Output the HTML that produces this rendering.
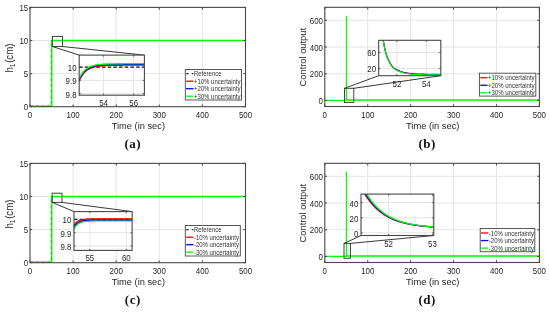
<!DOCTYPE html>
<html><head><meta charset="utf-8"><title>Figure</title>
<style>
html,body{margin:0;padding:0;background:#fff;}
body{width:550px;height:312px;overflow:hidden;}
svg{display:block;}
svg{font-family:'Liberation Sans', Arial, Helvetica, sans-serif;}

.sf{font-family:'Liberation Serif', 'Times New Roman', serif;font-weight:bold;}
</style></head>
<body>
<svg width="550" height="312" viewBox="0 0 550 312">
<rect x="0" y="0" width="550" height="312" fill="#fff"/>
<line x1="73.1" y1="7.4" x2="73.1" y2="106.7" stroke="#e4e4e4" stroke-width="1" />
<line x1="116.2" y1="7.4" x2="116.2" y2="106.7" stroke="#e4e4e4" stroke-width="1" />
<line x1="159.3" y1="7.4" x2="159.3" y2="106.7" stroke="#e4e4e4" stroke-width="1" />
<line x1="202.4" y1="7.4" x2="202.4" y2="106.7" stroke="#e4e4e4" stroke-width="1" />
<line x1="30" y1="73.6" x2="245.5" y2="73.6" stroke="#e4e4e4" stroke-width="1" />
<line x1="30" y1="40.5" x2="245.5" y2="40.5" stroke="#e4e4e4" stroke-width="1" />
<polyline points="30,106.3 51.4,106.3 51.4,40.5 245.5,40.5" fill="none" stroke="#000" stroke-width="1.2" stroke-linejoin="round" stroke-dasharray="3.2,2.6"/>
<polyline points="30,106.3 51.75,106.3 51.75,40.5" fill="none" stroke="#00ff00" stroke-width="1.5" stroke-linejoin="round" opacity="0.92"/>
<polyline points="51.3,40.5 245.5,40.5" fill="none" stroke="#00ff00" stroke-width="1.6" stroke-linejoin="round" />
<rect x="30" y="7.4" width="215.5" height="99.3" fill="none" stroke="#474747" stroke-width="1.1"/>
<line x1="30" y1="106.7" x2="30" y2="104.5" stroke="#474747" stroke-width="1" />
<line x1="30" y1="7.4" x2="30" y2="9.6" stroke="#474747" stroke-width="1" />
<line x1="73.1" y1="106.7" x2="73.1" y2="104.5" stroke="#474747" stroke-width="1" />
<line x1="73.1" y1="7.4" x2="73.1" y2="9.6" stroke="#474747" stroke-width="1" />
<line x1="116.2" y1="106.7" x2="116.2" y2="104.5" stroke="#474747" stroke-width="1" />
<line x1="116.2" y1="7.4" x2="116.2" y2="9.6" stroke="#474747" stroke-width="1" />
<line x1="159.3" y1="106.7" x2="159.3" y2="104.5" stroke="#474747" stroke-width="1" />
<line x1="159.3" y1="7.4" x2="159.3" y2="9.6" stroke="#474747" stroke-width="1" />
<line x1="202.4" y1="106.7" x2="202.4" y2="104.5" stroke="#474747" stroke-width="1" />
<line x1="202.4" y1="7.4" x2="202.4" y2="9.6" stroke="#474747" stroke-width="1" />
<line x1="245.5" y1="106.7" x2="245.5" y2="104.5" stroke="#474747" stroke-width="1" />
<line x1="245.5" y1="7.4" x2="245.5" y2="9.6" stroke="#474747" stroke-width="1" />
<line x1="30" y1="106.7" x2="32.2" y2="106.7" stroke="#474747" stroke-width="1" />
<line x1="245.5" y1="106.7" x2="243.3" y2="106.7" stroke="#474747" stroke-width="1" />
<line x1="30" y1="73.6" x2="32.2" y2="73.6" stroke="#474747" stroke-width="1" />
<line x1="245.5" y1="73.6" x2="243.3" y2="73.6" stroke="#474747" stroke-width="1" />
<line x1="30" y1="40.5" x2="32.2" y2="40.5" stroke="#474747" stroke-width="1" />
<line x1="245.5" y1="40.5" x2="243.3" y2="40.5" stroke="#474747" stroke-width="1" />
<line x1="30" y1="7.4" x2="32.2" y2="7.4" stroke="#474747" stroke-width="1" />
<line x1="245.5" y1="7.4" x2="243.3" y2="7.4" stroke="#474747" stroke-width="1" />
<text transform="translate(30,118) scale(0.85,1)" font-size="9.3" text-anchor="middle" fill="#262626" >0</text>
<text transform="translate(73.1,118) scale(0.85,1)" font-size="9.3" text-anchor="middle" fill="#262626" >100</text>
<text transform="translate(116.2,118) scale(0.85,1)" font-size="9.3" text-anchor="middle" fill="#262626" >200</text>
<text transform="translate(159.3,118) scale(0.85,1)" font-size="9.3" text-anchor="middle" fill="#262626" >300</text>
<text transform="translate(202.4,118) scale(0.85,1)" font-size="9.3" text-anchor="middle" fill="#262626" >400</text>
<text transform="translate(245.5,118) scale(0.85,1)" font-size="9.3" text-anchor="middle" fill="#262626" >500</text>
<text transform="translate(28.2,110.2) scale(0.85,1)" font-size="9.3" text-anchor="end" fill="#262626" >0</text>
<text transform="translate(28.2,77.1) scale(0.85,1)" font-size="9.3" text-anchor="end" fill="#262626" >5</text>
<text transform="translate(28.2,44) scale(0.85,1)" font-size="9.3" text-anchor="end" fill="#262626" >10</text>
<text transform="translate(28.2,10.9) scale(0.85,1)" font-size="9.3" text-anchor="end" fill="#262626" >15</text>
<rect x="52.4" y="36.4" width="10.1" height="10.1" fill="none" stroke="#3a3a3a" stroke-width="0.95"/>
<line x1="52.4" y1="46.5" x2="79.2" y2="55.1" stroke="#222" stroke-width="0.9" />
<line x1="62.5" y1="46.5" x2="144.4" y2="55.1" stroke="#222" stroke-width="0.9" />
<rect x="79.2" y="55.1" width="65.2" height="40.1" fill="#ffffff" stroke="none" stroke-width="0"/>
<line x1="103.6" y1="55.1" x2="103.6" y2="95.2" stroke="#e4e4e4" stroke-width="1" />
<line x1="133.7" y1="55.1" x2="133.7" y2="95.2" stroke="#e4e4e4" stroke-width="1" />
<line x1="79.2" y1="67.1" x2="144.4" y2="67.1" stroke="#e4e4e4" stroke-width="1" />
<line x1="79.2" y1="80.4" x2="144.4" y2="80.4" stroke="#e4e4e4" stroke-width="1" />
<line x1="79.2" y1="93.6" x2="144.4" y2="93.6" stroke="#e4e4e4" stroke-width="1" />
<line x1="79.2" y1="67.2" x2="144.4" y2="67.2" stroke="#111" stroke-width="1.2" stroke-dasharray="3.4,2.3"/>
<polyline points="79.2,81 80.03,79.22 80.85,77.64 81.68,76.24 82.5,74.99 83.33,73.89 84.15,72.91 84.98,72.04 85.8,71.27 86.63,70.58 87.45,69.98 88.28,69.44 89.1,68.96 89.93,68.54 90.75,68.16 91.58,67.83 92.41,67.53 93.23,67.27 94.06,67.03 94.88,66.83 95.71,66.64 96.53,66.48 97.36,66.34 98.18,66.21 99.01,66.1 99.83,65.99 100.66,65.9 101.48,65.83 102.31,65.75 103.13,65.69 103.96,65.64 104.78,65.59 105.61,65.54 106.44,65.51 107.26,65.47 108.09,65.44 108.91,65.41 109.74,65.39 110.56,65.37 111.39,65.35 112.21,65.33 113.04,65.32 113.86,65.3 114.69,65.29 115.51,65.28 116.34,65.27 117.16,65.26 117.99,65.26 118.82,65.25 119.64,65.25 120.47,65.24 121.29,65.24 122.12,65.23 122.94,65.23 123.77,65.22 124.59,65.22 125.42,65.22 126.24,65.22 127.07,65.22 127.89,65.21 128.72,65.21 129.54,65.21 130.37,65.21 131.19,65.21 132.02,65.21 132.85,65.21 133.67,65.21 134.5,65.21 135.32,65.2 136.15,65.2 136.97,65.2 137.8,65.2 138.62,65.2 139.45,65.2 140.27,65.2 141.1,65.2 141.92,65.2 142.75,65.2 143.57,65.2 144.4,65.2" fill="none" stroke="#ff0000" stroke-width="1.3" stroke-linejoin="round" />
<polyline points="79.2,79.7 80.03,77.98 80.85,76.46 81.68,75.1 82.5,73.9 83.33,72.84 84.15,71.89 84.98,71.05 85.8,70.31 86.63,69.65 87.45,69.06 88.28,68.54 89.1,68.08 89.93,67.67 90.75,67.31 91.58,66.99 92.41,66.7 93.23,66.45 94.06,66.22 94.88,66.02 95.71,65.84 96.53,65.69 97.36,65.55 98.18,65.42 99.01,65.31 99.83,65.22 100.66,65.13 101.48,65.05 102.31,64.99 103.13,64.93 103.96,64.87 104.78,64.82 105.61,64.78 106.44,64.74 107.26,64.71 108.09,64.68 108.91,64.66 109.74,64.63 110.56,64.61 111.39,64.59 112.21,64.58 113.04,64.56 113.86,64.55 114.69,64.54 115.51,64.53 116.34,64.52 117.16,64.51 117.99,64.51 118.82,64.5 119.64,64.49 120.47,64.49 121.29,64.48 122.12,64.48 122.94,64.48 123.77,64.47 124.59,64.47 125.42,64.47 126.24,64.47 127.07,64.46 127.89,64.46 128.72,64.46 129.54,64.46 130.37,64.46 131.19,64.46 132.02,64.46 132.85,64.46 133.67,64.46 134.5,64.46 135.32,64.45 136.15,64.45 136.97,64.45 137.8,64.45 138.62,64.45 139.45,64.45 140.27,64.45 141.1,64.45 141.92,64.45 142.75,64.45 143.57,64.45 144.4,64.45" fill="none" stroke="#0000ff" stroke-width="1.3" stroke-linejoin="round" />
<polyline points="79.2,78.4 80.03,76.74 80.85,75.27 81.68,73.97 82.5,72.81 83.33,71.78 84.15,70.87 84.98,70.06 85.8,69.35 86.63,68.71 87.45,68.14 88.28,67.64 89.1,67.2 89.93,66.8 90.75,66.45 91.58,66.14 92.41,65.87 93.23,65.62 94.06,65.41 94.88,65.21 95.71,65.04 96.53,64.89 97.36,64.76 98.18,64.64 99.01,64.53 99.83,64.44 100.66,64.36 101.48,64.28 102.31,64.22 103.13,64.16 103.96,64.11 104.78,64.06 105.61,64.02 106.44,63.98 107.26,63.95 108.09,63.92 108.91,63.9 109.74,63.88 110.56,63.86 111.39,63.84 112.21,63.82 113.04,63.81 113.86,63.8 114.69,63.79 115.51,63.78 116.34,63.77 117.16,63.76 117.99,63.75 118.82,63.75 119.64,63.74 120.47,63.74 121.29,63.73 122.12,63.73 122.94,63.73 123.77,63.72 124.59,63.72 125.42,63.72 126.24,63.72 127.07,63.71 127.89,63.71 128.72,63.71 129.54,63.71 130.37,63.71 131.19,63.71 132.02,63.71 132.85,63.71 133.67,63.71 134.5,63.7 135.32,63.7 136.15,63.7 136.97,63.7 137.8,63.7 138.62,63.7 139.45,63.7 140.27,63.7 141.1,63.7 141.92,63.7 142.75,63.7 143.57,63.7 144.4,63.7" fill="none" stroke="#00ff00" stroke-width="1.3" stroke-linejoin="round" />
<rect x="79.2" y="55.1" width="65.2" height="40.1" fill="none" stroke="#474747" stroke-width="1.1"/>
<line x1="103.6" y1="95.2" x2="103.6" y2="93.6" stroke="#474747" stroke-width="0.9" />
<line x1="103.6" y1="55.1" x2="103.6" y2="56.7" stroke="#474747" stroke-width="0.9" />
<text transform="translate(103.6,106.2) scale(0.85,1)" font-size="9.3" text-anchor="middle" fill="#262626" >54</text>
<line x1="133.7" y1="95.2" x2="133.7" y2="93.6" stroke="#474747" stroke-width="0.9" />
<line x1="133.7" y1="55.1" x2="133.7" y2="56.7" stroke="#474747" stroke-width="0.9" />
<text transform="translate(133.7,106.2) scale(0.85,1)" font-size="9.3" text-anchor="middle" fill="#262626" >56</text>
<line x1="79.2" y1="67.1" x2="80.8" y2="67.1" stroke="#474747" stroke-width="0.9" />
<line x1="144.4" y1="67.1" x2="142.8" y2="67.1" stroke="#474747" stroke-width="0.9" />
<text transform="translate(76.6,71) scale(0.85,1)" font-size="9.3" text-anchor="end" fill="#262626" >10</text>
<line x1="79.2" y1="80.4" x2="80.8" y2="80.4" stroke="#474747" stroke-width="0.9" />
<line x1="144.4" y1="80.4" x2="142.8" y2="80.4" stroke="#474747" stroke-width="0.9" />
<text transform="translate(76.6,84.3) scale(0.85,1)" font-size="9.3" text-anchor="end" fill="#262626" >9.9</text>
<line x1="79.2" y1="93.6" x2="80.8" y2="93.6" stroke="#474747" stroke-width="0.9" />
<line x1="144.4" y1="93.6" x2="142.8" y2="93.6" stroke="#474747" stroke-width="0.9" />
<text transform="translate(76.6,97.5) scale(0.85,1)" font-size="9.3" text-anchor="end" fill="#262626" >9.8</text>
<rect x="185.3" y="69.5" width="56.2" height="30.5" fill="#ffffff" stroke="#474747" stroke-width="0.9"/>
<line x1="186.1" y1="73.7" x2="193.5" y2="73.7" stroke="#000" stroke-width="1.1" stroke-dasharray="2.6,3.0"/>
<text transform="translate(193.9,76.2) scale(0.86,1)" font-size="7.0" text-anchor="start" fill="#333" >Reference</text>
<line x1="186.1" y1="81.2" x2="193.5" y2="81.2" stroke="#ff0000" stroke-width="1.3" />
<text transform="translate(193.9,83.7) scale(0.86,1)" font-size="7.0" text-anchor="start" fill="#333" >+10% uncertainty</text>
<line x1="186.1" y1="88.7" x2="193.5" y2="88.7" stroke="#0000ff" stroke-width="1.3" />
<text transform="translate(193.9,91.2) scale(0.86,1)" font-size="7.0" text-anchor="start" fill="#333" >+20% uncertainty</text>
<line x1="186.1" y1="96.2" x2="193.5" y2="96.2" stroke="#00ff00" stroke-width="1.3" />
<text transform="translate(193.9,98.7) scale(0.86,1)" font-size="7.0" text-anchor="start" fill="#333" >+30% uncertainty</text>
<text transform="translate(138.35,128.9) scale(0.94,1)" font-size="9.9" text-anchor="middle" fill="#262626" >Time (in sec)</text>
<text transform="translate(12.5,58) rotate(-90) scale(0.94,1)" font-size="10.3" text-anchor="middle" fill="#262626">h<tspan font-size="6.4" dy="2.0">1</tspan><tspan dy="-2.0" dx="0.9">(cm)</tspan></text>
<text x="132.8" y="148.2" class="sf" font-size="13" letter-spacing="0.5" text-anchor="middle" fill="#111">(a)</text>
<line x1="367.72" y1="7.3" x2="367.72" y2="106.5" stroke="#e4e4e4" stroke-width="1" />
<line x1="410.64" y1="7.3" x2="410.64" y2="106.5" stroke="#e4e4e4" stroke-width="1" />
<line x1="453.56" y1="7.3" x2="453.56" y2="106.5" stroke="#e4e4e4" stroke-width="1" />
<line x1="496.48" y1="7.3" x2="496.48" y2="106.5" stroke="#e4e4e4" stroke-width="1" />
<line x1="324.8" y1="100.48" x2="539.4" y2="100.48" stroke="#e4e4e4" stroke-width="1" />
<line x1="324.8" y1="73.75" x2="539.4" y2="73.75" stroke="#e4e4e4" stroke-width="1" />
<line x1="324.8" y1="47.01" x2="539.4" y2="47.01" stroke="#e4e4e4" stroke-width="1" />
<line x1="324.8" y1="20.27" x2="539.4" y2="20.27" stroke="#e4e4e4" stroke-width="1" />
<polyline points="324.8,100.38 346.4,100.38" fill="none" stroke="#00ff00" stroke-width="1.3" stroke-linejoin="round" />
<line x1="346.4" y1="100.48" x2="346.4" y2="15.86" stroke="#00ff00" stroke-width="1.2" />
<path d="M346.4,97.98 Q346.4,99.98 348.2,99.98 H539.4" fill="none" stroke="#00ff00" stroke-width="1.3"/>
<rect x="324.8" y="7.3" width="214.6" height="99.2" fill="none" stroke="#474747" stroke-width="1.1"/>
<line x1="324.8" y1="106.5" x2="324.8" y2="104.3" stroke="#474747" stroke-width="1" />
<line x1="324.8" y1="7.3" x2="324.8" y2="9.5" stroke="#474747" stroke-width="1" />
<line x1="367.72" y1="106.5" x2="367.72" y2="104.3" stroke="#474747" stroke-width="1" />
<line x1="367.72" y1="7.3" x2="367.72" y2="9.5" stroke="#474747" stroke-width="1" />
<line x1="410.64" y1="106.5" x2="410.64" y2="104.3" stroke="#474747" stroke-width="1" />
<line x1="410.64" y1="7.3" x2="410.64" y2="9.5" stroke="#474747" stroke-width="1" />
<line x1="453.56" y1="106.5" x2="453.56" y2="104.3" stroke="#474747" stroke-width="1" />
<line x1="453.56" y1="7.3" x2="453.56" y2="9.5" stroke="#474747" stroke-width="1" />
<line x1="496.48" y1="106.5" x2="496.48" y2="104.3" stroke="#474747" stroke-width="1" />
<line x1="496.48" y1="7.3" x2="496.48" y2="9.5" stroke="#474747" stroke-width="1" />
<line x1="539.4" y1="106.5" x2="539.4" y2="104.3" stroke="#474747" stroke-width="1" />
<line x1="539.4" y1="7.3" x2="539.4" y2="9.5" stroke="#474747" stroke-width="1" />
<line x1="324.8" y1="100.48" x2="327" y2="100.48" stroke="#474747" stroke-width="1" />
<line x1="539.4" y1="100.48" x2="537.2" y2="100.48" stroke="#474747" stroke-width="1" />
<line x1="324.8" y1="73.75" x2="327" y2="73.75" stroke="#474747" stroke-width="1" />
<line x1="539.4" y1="73.75" x2="537.2" y2="73.75" stroke="#474747" stroke-width="1" />
<line x1="324.8" y1="47.01" x2="327" y2="47.01" stroke="#474747" stroke-width="1" />
<line x1="539.4" y1="47.01" x2="537.2" y2="47.01" stroke="#474747" stroke-width="1" />
<line x1="324.8" y1="20.27" x2="327" y2="20.27" stroke="#474747" stroke-width="1" />
<line x1="539.4" y1="20.27" x2="537.2" y2="20.27" stroke="#474747" stroke-width="1" />
<text transform="translate(324.8,117.8) scale(0.85,1)" font-size="9.3" text-anchor="middle" fill="#262626" >0</text>
<text transform="translate(367.72,117.8) scale(0.85,1)" font-size="9.3" text-anchor="middle" fill="#262626" >100</text>
<text transform="translate(410.64,117.8) scale(0.85,1)" font-size="9.3" text-anchor="middle" fill="#262626" >200</text>
<text transform="translate(453.56,117.8) scale(0.85,1)" font-size="9.3" text-anchor="middle" fill="#262626" >300</text>
<text transform="translate(496.48,117.8) scale(0.85,1)" font-size="9.3" text-anchor="middle" fill="#262626" >400</text>
<text transform="translate(539.4,117.8) scale(0.85,1)" font-size="9.3" text-anchor="middle" fill="#262626" >500</text>
<text transform="translate(323,103.98) scale(0.85,1)" font-size="9.3" text-anchor="end" fill="#262626" >0</text>
<text transform="translate(323,77.25) scale(0.85,1)" font-size="9.3" text-anchor="end" fill="#262626" >200</text>
<text transform="translate(323,50.51) scale(0.85,1)" font-size="9.3" text-anchor="end" fill="#262626" >400</text>
<text transform="translate(323,23.77) scale(0.85,1)" font-size="9.3" text-anchor="end" fill="#262626" >600</text>
<rect x="344.5" y="88.3" width="9.3" height="14.1" fill="none" stroke="#3a3a3a" stroke-width="0.95"/>
<line x1="344.5" y1="88.3" x2="378.7" y2="75.7" stroke="#222" stroke-width="0.9" />
<line x1="353.8" y1="88.3" x2="440.8" y2="75.7" stroke="#222" stroke-width="0.9" />
<rect x="378.7" y="40.3" width="62.1" height="35.4" fill="#ffffff" stroke="none" stroke-width="0"/>
<line x1="396.9" y1="40.3" x2="396.9" y2="75.7" stroke="#e4e4e4" stroke-width="1" />
<line x1="426.3" y1="40.3" x2="426.3" y2="75.7" stroke="#e4e4e4" stroke-width="1" />
<line x1="378.7" y1="52.5" x2="440.8" y2="52.5" stroke="#e4e4e4" stroke-width="1" />
<line x1="378.7" y1="68.5" x2="440.8" y2="68.5" stroke="#e4e4e4" stroke-width="1" />
<clipPath id="clip1"><rect x="378.7" y="40.3" width="62.1" height="35.4"/></clipPath>
<g clip-path="url(#clip1)">
<polyline points="379.7,21.94 380.21,24.71 380.73,27.45 381.24,30.17 381.75,32.85 382.27,35.49 382.78,38.1 383.29,40.68 383.81,43.37 384.32,46.06 384.83,48.6 385.35,50.85 385.86,52.7 386.37,54.38 386.89,55.92 387.4,57.32 387.92,58.6 388.43,59.75 388.94,60.77 389.46,61.75 389.97,62.69 390.48,63.59 391,64.44 391.51,65.23 392.02,65.96 392.54,66.61 393.05,67.18 393.56,67.67 394.08,68.05 394.59,68.39 395.1,68.71 395.62,69.03 396.13,69.32 396.64,69.61 397.16,69.88 397.67,70.14 398.18,70.38 398.7,70.62 399.21,70.84 399.72,71.05 400.24,71.25 400.75,71.44 401.26,71.62 401.78,71.79 402.29,71.94 402.81,72.09 403.32,72.23 403.83,72.36 404.35,72.48 404.86,72.59 405.37,72.69 405.89,72.78 406.4,72.87 406.91,72.95 407.43,73.03 407.94,73.12 408.45,73.19 408.97,73.27 409.48,73.34 409.99,73.41 410.51,73.48 411.02,73.54 411.53,73.6 412.05,73.66 412.56,73.71 413.07,73.76 413.59,73.81 414.1,73.85 414.61,73.89 415.13,73.92 415.64,73.95 416.15,73.97 416.67,73.99 417.18,74 417.69,74.02 418.21,74.03 418.72,74.04 419.24,74.05 419.75,74.06 420.26,74.08 420.78,74.09 421.29,74.1 421.8,74.11 422.32,74.12 422.83,74.13 423.34,74.14 423.86,74.15 424.37,74.16 424.88,74.16 425.4,74.17 425.91,74.18 426.42,74.19 426.94,74.2 427.45,74.2 427.96,74.21 428.48,74.22 428.99,74.22 429.5,74.23 430.02,74.24 430.53,74.24 431.04,74.25 431.56,74.25 432.07,74.26 432.58,74.26 433.1,74.27 433.61,74.27 434.13,74.28 434.64,74.28 435.15,74.28 435.67,74.29 436.18,74.29 436.69,74.29 437.21,74.29 437.72,74.29 438.23,74.3 438.75,74.3 439.26,74.3 439.77,74.3 440.29,74.3 440.8,74.3" fill="none" stroke="#ff0000" stroke-width="1.15" stroke-linejoin="round" />
<polyline points="379.7,22.24 380.21,25.01 380.73,27.75 381.24,30.47 381.75,33.15 382.27,35.79 382.78,38.4 383.29,40.98 383.81,43.67 384.32,46.36 384.83,48.9 385.35,51.15 385.86,53 386.37,54.68 386.89,56.22 387.4,57.62 387.92,58.9 388.43,60.05 388.94,61.07 389.46,62.05 389.97,62.99 390.48,63.89 391,64.74 391.51,65.53 392.02,66.26 392.54,66.91 393.05,67.48 393.56,67.97 394.08,68.35 394.59,68.69 395.1,69.01 395.62,69.33 396.13,69.62 396.64,69.91 397.16,70.18 397.67,70.44 398.18,70.68 398.7,70.92 399.21,71.14 399.72,71.35 400.24,71.55 400.75,71.74 401.26,71.92 401.78,72.09 402.29,72.24 402.81,72.39 403.32,72.53 403.83,72.66 404.35,72.78 404.86,72.89 405.37,72.99 405.89,73.08 406.4,73.17 406.91,73.25 407.43,73.33 407.94,73.42 408.45,73.49 408.97,73.57 409.48,73.64 409.99,73.71 410.51,73.78 411.02,73.84 411.53,73.9 412.05,73.96 412.56,74.01 413.07,74.06 413.59,74.11 414.1,74.15 414.61,74.19 415.13,74.22 415.64,74.25 416.15,74.27 416.67,74.29 417.18,74.3 417.69,74.32 418.21,74.33 418.72,74.34 419.24,74.35 419.75,74.36 420.26,74.38 420.78,74.39 421.29,74.4 421.8,74.41 422.32,74.42 422.83,74.43 423.34,74.44 423.86,74.45 424.37,74.46 424.88,74.46 425.4,74.47 425.91,74.48 426.42,74.49 426.94,74.5 427.45,74.5 427.96,74.51 428.48,74.52 428.99,74.52 429.5,74.53 430.02,74.54 430.53,74.54 431.04,74.55 431.56,74.55 432.07,74.56 432.58,74.56 433.1,74.57 433.61,74.57 434.13,74.58 434.64,74.58 435.15,74.58 435.67,74.59 436.18,74.59 436.69,74.59 437.21,74.59 437.72,74.59 438.23,74.6 438.75,74.6 439.26,74.6 439.77,74.6 440.29,74.6 440.8,74.6" fill="none" stroke="#0000ff" stroke-width="1.15" stroke-linejoin="round" />
<polyline points="379.7,22.54 380.21,25.31 380.73,28.05 381.24,30.77 381.75,33.45 382.27,36.09 382.78,38.7 383.29,41.28 383.81,43.97 384.32,46.66 384.83,49.2 385.35,51.45 385.86,53.3 386.37,54.98 386.89,56.52 387.4,57.92 387.92,59.2 388.43,60.35 388.94,61.37 389.46,62.35 389.97,63.29 390.48,64.19 391,65.04 391.51,65.83 392.02,66.56 392.54,67.21 393.05,67.78 393.56,68.27 394.08,68.65 394.59,68.99 395.1,69.31 395.62,69.63 396.13,69.92 396.64,70.21 397.16,70.48 397.67,70.74 398.18,70.98 398.7,71.22 399.21,71.44 399.72,71.65 400.24,71.85 400.75,72.04 401.26,72.22 401.78,72.39 402.29,72.54 402.81,72.69 403.32,72.83 403.83,72.96 404.35,73.08 404.86,73.19 405.37,73.29 405.89,73.38 406.4,73.47 406.91,73.55 407.43,73.63 407.94,73.72 408.45,73.79 408.97,73.87 409.48,73.94 409.99,74.01 410.51,74.08 411.02,74.14 411.53,74.2 412.05,74.26 412.56,74.31 413.07,74.36 413.59,74.41 414.1,74.45 414.61,74.49 415.13,74.52 415.64,74.55 416.15,74.57 416.67,74.59 417.18,74.6 417.69,74.62 418.21,74.63 418.72,74.64 419.24,74.65 419.75,74.66 420.26,74.68 420.78,74.69 421.29,74.7 421.8,74.71 422.32,74.72 422.83,74.73 423.34,74.74 423.86,74.75 424.37,74.76 424.88,74.76 425.4,74.77 425.91,74.78 426.42,74.79 426.94,74.8 427.45,74.8 427.96,74.81 428.48,74.82 428.99,74.82 429.5,74.83 430.02,74.84 430.53,74.84 431.04,74.85 431.56,74.85 432.07,74.86 432.58,74.86 433.1,74.87 433.61,74.87 434.13,74.88 434.64,74.88 435.15,74.88 435.67,74.89 436.18,74.89 436.69,74.89 437.21,74.89 437.72,74.89 438.23,74.9 438.75,74.9 439.26,74.9 439.77,74.9 440.29,74.9 440.8,74.9" fill="none" stroke="#00ff00" stroke-width="1.15" stroke-linejoin="round" />
</g>
<rect x="378.7" y="40.3" width="62.1" height="35.4" fill="none" stroke="#474747" stroke-width="1.1"/>
<line x1="396.9" y1="75.7" x2="396.9" y2="74.1" stroke="#474747" stroke-width="0.9" />
<line x1="396.9" y1="40.3" x2="396.9" y2="41.9" stroke="#474747" stroke-width="0.9" />
<text transform="translate(396.9,86.7) scale(0.85,1)" font-size="9.3" text-anchor="middle" fill="#262626" >52</text>
<line x1="426.3" y1="75.7" x2="426.3" y2="74.1" stroke="#474747" stroke-width="0.9" />
<line x1="426.3" y1="40.3" x2="426.3" y2="41.9" stroke="#474747" stroke-width="0.9" />
<text transform="translate(426.3,86.7) scale(0.85,1)" font-size="9.3" text-anchor="middle" fill="#262626" >54</text>
<line x1="378.7" y1="52.5" x2="380.3" y2="52.5" stroke="#474747" stroke-width="0.9" />
<line x1="440.8" y1="52.5" x2="439.2" y2="52.5" stroke="#474747" stroke-width="0.9" />
<text transform="translate(376.1,56.4) scale(0.85,1)" font-size="9.3" text-anchor="end" fill="#262626" >60</text>
<line x1="378.7" y1="68.5" x2="380.3" y2="68.5" stroke="#474747" stroke-width="0.9" />
<line x1="440.8" y1="68.5" x2="439.2" y2="68.5" stroke="#474747" stroke-width="0.9" />
<text transform="translate(376.1,72.4) scale(0.85,1)" font-size="9.3" text-anchor="end" fill="#262626" >20</text>
<rect x="479.4" y="73.2" width="56.4" height="22.9" fill="#ffffff" stroke="#474747" stroke-width="0.9"/>
<line x1="480.2" y1="77.7" x2="487.6" y2="77.7" stroke="#ff0000" stroke-width="1.3" />
<text transform="translate(488,80.2) scale(0.86,1)" font-size="7.0" text-anchor="start" fill="#333" >+10% uncertainty</text>
<line x1="480.2" y1="85.25" x2="487.6" y2="85.25" stroke="#0000ff" stroke-width="1.3" />
<text transform="translate(488,87.75) scale(0.86,1)" font-size="7.0" text-anchor="start" fill="#333" >+20% uncertainty</text>
<line x1="480.2" y1="92.8" x2="487.6" y2="92.8" stroke="#00ff00" stroke-width="1.3" />
<text transform="translate(488,95.3) scale(0.86,1)" font-size="7.0" text-anchor="start" fill="#333" >+30% uncertainty</text>
<text transform="translate(432.7,128.9) scale(0.94,1)" font-size="9.9" text-anchor="middle" fill="#262626" >Time (in sec)</text>
<text transform="translate(305.6,57.2) rotate(-90) scale(0.94,1)" font-size="9.9" text-anchor="middle" fill="#262626">Control output</text>
<text x="427.2" y="148.2" class="sf" font-size="13" letter-spacing="0.5" text-anchor="middle" fill="#111">(b)</text>
<line x1="73.1" y1="163.4" x2="73.1" y2="262.7" stroke="#e4e4e4" stroke-width="1" />
<line x1="116.2" y1="163.4" x2="116.2" y2="262.7" stroke="#e4e4e4" stroke-width="1" />
<line x1="159.3" y1="163.4" x2="159.3" y2="262.7" stroke="#e4e4e4" stroke-width="1" />
<line x1="202.4" y1="163.4" x2="202.4" y2="262.7" stroke="#e4e4e4" stroke-width="1" />
<line x1="30" y1="229.6" x2="245.5" y2="229.6" stroke="#e4e4e4" stroke-width="1" />
<line x1="30" y1="196.5" x2="245.5" y2="196.5" stroke="#e4e4e4" stroke-width="1" />
<polyline points="30,262.3 51.4,262.3 51.4,196.5 245.5,196.5" fill="none" stroke="#000" stroke-width="1.2" stroke-linejoin="round" stroke-dasharray="3.2,2.6"/>
<polyline points="30,262.3 51.75,262.3 51.75,196.5" fill="none" stroke="#00ff00" stroke-width="1.5" stroke-linejoin="round" opacity="0.92"/>
<polyline points="51.3,196.5 245.5,196.5" fill="none" stroke="#00ff00" stroke-width="1.6" stroke-linejoin="round" />
<rect x="30" y="163.4" width="215.5" height="99.3" fill="none" stroke="#474747" stroke-width="1.1"/>
<line x1="30" y1="262.7" x2="30" y2="260.5" stroke="#474747" stroke-width="1" />
<line x1="30" y1="163.4" x2="30" y2="165.6" stroke="#474747" stroke-width="1" />
<line x1="73.1" y1="262.7" x2="73.1" y2="260.5" stroke="#474747" stroke-width="1" />
<line x1="73.1" y1="163.4" x2="73.1" y2="165.6" stroke="#474747" stroke-width="1" />
<line x1="116.2" y1="262.7" x2="116.2" y2="260.5" stroke="#474747" stroke-width="1" />
<line x1="116.2" y1="163.4" x2="116.2" y2="165.6" stroke="#474747" stroke-width="1" />
<line x1="159.3" y1="262.7" x2="159.3" y2="260.5" stroke="#474747" stroke-width="1" />
<line x1="159.3" y1="163.4" x2="159.3" y2="165.6" stroke="#474747" stroke-width="1" />
<line x1="202.4" y1="262.7" x2="202.4" y2="260.5" stroke="#474747" stroke-width="1" />
<line x1="202.4" y1="163.4" x2="202.4" y2="165.6" stroke="#474747" stroke-width="1" />
<line x1="245.5" y1="262.7" x2="245.5" y2="260.5" stroke="#474747" stroke-width="1" />
<line x1="245.5" y1="163.4" x2="245.5" y2="165.6" stroke="#474747" stroke-width="1" />
<line x1="30" y1="262.7" x2="32.2" y2="262.7" stroke="#474747" stroke-width="1" />
<line x1="245.5" y1="262.7" x2="243.3" y2="262.7" stroke="#474747" stroke-width="1" />
<line x1="30" y1="229.6" x2="32.2" y2="229.6" stroke="#474747" stroke-width="1" />
<line x1="245.5" y1="229.6" x2="243.3" y2="229.6" stroke="#474747" stroke-width="1" />
<line x1="30" y1="196.5" x2="32.2" y2="196.5" stroke="#474747" stroke-width="1" />
<line x1="245.5" y1="196.5" x2="243.3" y2="196.5" stroke="#474747" stroke-width="1" />
<line x1="30" y1="163.4" x2="32.2" y2="163.4" stroke="#474747" stroke-width="1" />
<line x1="245.5" y1="163.4" x2="243.3" y2="163.4" stroke="#474747" stroke-width="1" />
<text transform="translate(30,274) scale(0.85,1)" font-size="9.3" text-anchor="middle" fill="#262626" >0</text>
<text transform="translate(73.1,274) scale(0.85,1)" font-size="9.3" text-anchor="middle" fill="#262626" >100</text>
<text transform="translate(116.2,274) scale(0.85,1)" font-size="9.3" text-anchor="middle" fill="#262626" >200</text>
<text transform="translate(159.3,274) scale(0.85,1)" font-size="9.3" text-anchor="middle" fill="#262626" >300</text>
<text transform="translate(202.4,274) scale(0.85,1)" font-size="9.3" text-anchor="middle" fill="#262626" >400</text>
<text transform="translate(245.5,274) scale(0.85,1)" font-size="9.3" text-anchor="middle" fill="#262626" >500</text>
<text transform="translate(28.2,266.2) scale(0.85,1)" font-size="9.3" text-anchor="end" fill="#262626" >0</text>
<text transform="translate(28.2,233.1) scale(0.85,1)" font-size="9.3" text-anchor="end" fill="#262626" >5</text>
<text transform="translate(28.2,200) scale(0.85,1)" font-size="9.3" text-anchor="end" fill="#262626" >10</text>
<text transform="translate(28.2,166.9) scale(0.85,1)" font-size="9.3" text-anchor="end" fill="#262626" >15</text>
<rect x="52.2" y="193.2" width="9.8" height="9.2" fill="none" stroke="#3a3a3a" stroke-width="0.95"/>
<line x1="52.2" y1="202.4" x2="74" y2="211.6" stroke="#222" stroke-width="0.9" />
<line x1="62" y1="202.4" x2="132.1" y2="211.6" stroke="#222" stroke-width="0.9" />
<rect x="74" y="211.6" width="58.1" height="38.8" fill="#ffffff" stroke="none" stroke-width="0"/>
<line x1="89.8" y1="211.6" x2="89.8" y2="250.4" stroke="#e4e4e4" stroke-width="1" />
<line x1="126.3" y1="211.6" x2="126.3" y2="250.4" stroke="#e4e4e4" stroke-width="1" />
<line x1="74" y1="219.4" x2="132.1" y2="219.4" stroke="#e4e4e4" stroke-width="1" />
<line x1="74" y1="232.7" x2="132.1" y2="232.7" stroke="#e4e4e4" stroke-width="1" />
<line x1="74" y1="246" x2="132.1" y2="246" stroke="#e4e4e4" stroke-width="1" />
<line x1="74" y1="219.4" x2="132.1" y2="219.4" stroke="#111" stroke-width="1.2" stroke-dasharray="3.4,2.3"/>
<polyline points="74,228.8 74.74,227.58 75.47,226.56 76.21,225.68 76.94,224.95 77.68,224.33 78.41,223.8 79.15,223.35 79.88,222.97 80.62,222.66 81.35,222.38 82.09,222.16 82.83,221.96 83.56,221.8 84.3,221.66 85.03,221.54 85.77,221.44 86.5,221.36 87.24,221.29 87.97,221.23 88.71,221.18 89.44,221.14 90.18,221.1 90.92,221.07 91.65,221.04 92.39,221.02 93.12,221 93.86,220.99 94.59,220.97 95.33,220.96 96.06,220.95 96.8,220.94 97.53,220.94 98.27,220.93 99.01,220.93 99.74,220.92 100.48,220.92 101.21,220.92 101.95,220.91 102.68,220.91 103.42,220.91 104.15,220.91 104.89,220.91 105.62,220.91 106.36,220.91 107.09,220.9 107.83,220.9 108.57,220.9 109.3,220.9 110.04,220.9 110.77,220.9 111.51,220.9 112.24,220.9 112.98,220.9 113.71,220.9 114.45,220.9 115.18,220.9 115.92,220.9 116.66,220.9 117.39,220.9 118.13,220.9 118.86,220.9 119.6,220.9 120.33,220.9 121.07,220.9 121.8,220.9 122.54,220.9 123.27,220.9 124.01,220.9 124.75,220.9 125.48,220.9 126.22,220.9 126.95,220.9 127.69,220.9 128.42,220.9 129.16,220.9 129.89,220.9 130.63,220.9 131.36,220.9 132.1,220.9" fill="none" stroke="#00ff00" stroke-width="1.3" stroke-linejoin="round" />
<polyline points="74,226.6 74.74,225.55 75.47,224.67 76.21,223.92 76.94,223.28 77.68,222.75 78.41,222.29 79.15,221.91 79.88,221.59 80.62,221.31 81.35,221.08 82.09,220.88 82.83,220.72 83.56,220.57 84.3,220.45 85.03,220.35 85.77,220.27 86.5,220.2 87.24,220.14 87.97,220.08 88.71,220.04 89.44,220 90.18,219.97 90.92,219.95 91.65,219.92 92.39,219.9 93.12,219.89 93.86,219.87 94.59,219.86 95.33,219.85 96.06,219.85 96.8,219.84 97.53,219.83 98.27,219.83 99.01,219.82 99.74,219.82 100.48,219.82 101.21,219.81 101.95,219.81 102.68,219.81 103.42,219.81 104.15,219.81 104.89,219.81 105.62,219.81 106.36,219.8 107.09,219.8 107.83,219.8 108.57,219.8 109.3,219.8 110.04,219.8 110.77,219.8 111.51,219.8 112.24,219.8 112.98,219.8 113.71,219.8 114.45,219.8 115.18,219.8 115.92,219.8 116.66,219.8 117.39,219.8 118.13,219.8 118.86,219.8 119.6,219.8 120.33,219.8 121.07,219.8 121.8,219.8 122.54,219.8 123.27,219.8 124.01,219.8 124.75,219.8 125.48,219.8 126.22,219.8 126.95,219.8 127.69,219.8 128.42,219.8 129.16,219.8 129.89,219.8 130.63,219.8 131.36,219.8 132.1,219.8" fill="none" stroke="#0000ff" stroke-width="1.3" stroke-linejoin="round" />
<polyline points="74,224.8 74.74,223.88 75.47,223.1 76.21,222.43 76.94,221.87 77.68,221.4 78.41,221 79.15,220.66 79.88,220.38 80.62,220.13 81.35,219.93 82.09,219.75 82.83,219.61 83.56,219.48 84.3,219.38 85.03,219.29 85.77,219.21 86.5,219.15 87.24,219.1 87.97,219.05 88.71,219.01 89.44,218.98 90.18,218.95 90.92,218.93 91.65,218.91 92.39,218.89 93.12,218.88 93.86,218.87 94.59,218.86 95.33,218.85 96.06,218.84 96.8,218.83 97.53,218.83 98.27,218.82 99.01,218.82 99.74,218.82 100.48,218.81 101.21,218.81 101.95,218.81 102.68,218.81 103.42,218.81 104.15,218.81 104.89,218.81 105.62,218.8 106.36,218.8 107.09,218.8 107.83,218.8 108.57,218.8 109.3,218.8 110.04,218.8 110.77,218.8 111.51,218.8 112.24,218.8 112.98,218.8 113.71,218.8 114.45,218.8 115.18,218.8 115.92,218.8 116.66,218.8 117.39,218.8 118.13,218.8 118.86,218.8 119.6,218.8 120.33,218.8 121.07,218.8 121.8,218.8 122.54,218.8 123.27,218.8 124.01,218.8 124.75,218.8 125.48,218.8 126.22,218.8 126.95,218.8 127.69,218.8 128.42,218.8 129.16,218.8 129.89,218.8 130.63,218.8 131.36,218.8 132.1,218.8" fill="none" stroke="#ff0000" stroke-width="1.3" stroke-linejoin="round" />
<rect x="74" y="211.6" width="58.1" height="38.8" fill="none" stroke="#474747" stroke-width="1.1"/>
<line x1="89.8" y1="250.4" x2="89.8" y2="248.8" stroke="#474747" stroke-width="0.9" />
<line x1="89.8" y1="211.6" x2="89.8" y2="213.2" stroke="#474747" stroke-width="0.9" />
<text transform="translate(89.8,261.4) scale(0.85,1)" font-size="9.3" text-anchor="middle" fill="#262626" >55</text>
<line x1="126.3" y1="250.4" x2="126.3" y2="248.8" stroke="#474747" stroke-width="0.9" />
<line x1="126.3" y1="211.6" x2="126.3" y2="213.2" stroke="#474747" stroke-width="0.9" />
<text transform="translate(126.3,261.4) scale(0.85,1)" font-size="9.3" text-anchor="middle" fill="#262626" >60</text>
<line x1="74" y1="219.4" x2="75.6" y2="219.4" stroke="#474747" stroke-width="0.9" />
<line x1="132.1" y1="219.4" x2="130.5" y2="219.4" stroke="#474747" stroke-width="0.9" />
<text transform="translate(71.4,223.3) scale(0.85,1)" font-size="9.3" text-anchor="end" fill="#262626" >10</text>
<line x1="74" y1="232.7" x2="75.6" y2="232.7" stroke="#474747" stroke-width="0.9" />
<line x1="132.1" y1="232.7" x2="130.5" y2="232.7" stroke="#474747" stroke-width="0.9" />
<text transform="translate(71.4,236.6) scale(0.85,1)" font-size="9.3" text-anchor="end" fill="#262626" >9.9</text>
<line x1="74" y1="246" x2="75.6" y2="246" stroke="#474747" stroke-width="0.9" />
<line x1="132.1" y1="246" x2="130.5" y2="246" stroke="#474747" stroke-width="0.9" />
<text transform="translate(71.4,249.9) scale(0.85,1)" font-size="9.3" text-anchor="end" fill="#262626" >9.8</text>
<rect x="185.3" y="225.5" width="55" height="30.5" fill="#ffffff" stroke="#474747" stroke-width="0.9"/>
<line x1="186.1" y1="229.7" x2="193.5" y2="229.7" stroke="#000" stroke-width="1.1" stroke-dasharray="2.6,3.0"/>
<text transform="translate(193.9,232.2) scale(0.86,1)" font-size="7.0" text-anchor="start" fill="#333" >Reference</text>
<line x1="186.1" y1="237.2" x2="193.5" y2="237.2" stroke="#ff0000" stroke-width="1.3" />
<text transform="translate(193.9,239.7) scale(0.86,1)" font-size="7.0" text-anchor="start" fill="#333" >-10% uncertainty</text>
<line x1="186.1" y1="244.7" x2="193.5" y2="244.7" stroke="#0000ff" stroke-width="1.3" />
<text transform="translate(193.9,247.2) scale(0.86,1)" font-size="7.0" text-anchor="start" fill="#333" >-20% uncertainty</text>
<line x1="186.1" y1="252.2" x2="193.5" y2="252.2" stroke="#00ff00" stroke-width="1.3" />
<text transform="translate(193.9,254.7) scale(0.86,1)" font-size="7.0" text-anchor="start" fill="#333" >-30% uncertainty</text>
<text transform="translate(138.35,284.9) scale(0.94,1)" font-size="9.9" text-anchor="middle" fill="#262626" >Time (in sec)</text>
<text transform="translate(12.5,214) rotate(-90) scale(0.94,1)" font-size="10.3" text-anchor="middle" fill="#262626">h<tspan font-size="6.4" dy="2.0">1</tspan><tspan dy="-2.0" dx="0.9">(cm)</tspan></text>
<text x="132.8" y="304.2" class="sf" font-size="13" letter-spacing="0.5" text-anchor="middle" fill="#111">(c)</text>
<line x1="367.72" y1="163.3" x2="367.72" y2="262.5" stroke="#e4e4e4" stroke-width="1" />
<line x1="410.64" y1="163.3" x2="410.64" y2="262.5" stroke="#e4e4e4" stroke-width="1" />
<line x1="453.56" y1="163.3" x2="453.56" y2="262.5" stroke="#e4e4e4" stroke-width="1" />
<line x1="496.48" y1="163.3" x2="496.48" y2="262.5" stroke="#e4e4e4" stroke-width="1" />
<line x1="324.8" y1="256.48" x2="539.4" y2="256.48" stroke="#e4e4e4" stroke-width="1" />
<line x1="324.8" y1="229.75" x2="539.4" y2="229.75" stroke="#e4e4e4" stroke-width="1" />
<line x1="324.8" y1="203.01" x2="539.4" y2="203.01" stroke="#e4e4e4" stroke-width="1" />
<line x1="324.8" y1="176.27" x2="539.4" y2="176.27" stroke="#e4e4e4" stroke-width="1" />
<polyline points="324.8,256.38 346.4,256.38" fill="none" stroke="#00ff00" stroke-width="1.3" stroke-linejoin="round" />
<line x1="346.4" y1="256.48" x2="346.4" y2="171.86" stroke="#00ff00" stroke-width="1.2" />
<path d="M346.4,253.98 Q346.4,255.98 348.2,255.98 H539.4" fill="none" stroke="#00ff00" stroke-width="1.3"/>
<rect x="324.8" y="163.3" width="214.6" height="99.2" fill="none" stroke="#474747" stroke-width="1.1"/>
<line x1="324.8" y1="262.5" x2="324.8" y2="260.3" stroke="#474747" stroke-width="1" />
<line x1="324.8" y1="163.3" x2="324.8" y2="165.5" stroke="#474747" stroke-width="1" />
<line x1="367.72" y1="262.5" x2="367.72" y2="260.3" stroke="#474747" stroke-width="1" />
<line x1="367.72" y1="163.3" x2="367.72" y2="165.5" stroke="#474747" stroke-width="1" />
<line x1="410.64" y1="262.5" x2="410.64" y2="260.3" stroke="#474747" stroke-width="1" />
<line x1="410.64" y1="163.3" x2="410.64" y2="165.5" stroke="#474747" stroke-width="1" />
<line x1="453.56" y1="262.5" x2="453.56" y2="260.3" stroke="#474747" stroke-width="1" />
<line x1="453.56" y1="163.3" x2="453.56" y2="165.5" stroke="#474747" stroke-width="1" />
<line x1="496.48" y1="262.5" x2="496.48" y2="260.3" stroke="#474747" stroke-width="1" />
<line x1="496.48" y1="163.3" x2="496.48" y2="165.5" stroke="#474747" stroke-width="1" />
<line x1="539.4" y1="262.5" x2="539.4" y2="260.3" stroke="#474747" stroke-width="1" />
<line x1="539.4" y1="163.3" x2="539.4" y2="165.5" stroke="#474747" stroke-width="1" />
<line x1="324.8" y1="256.48" x2="327" y2="256.48" stroke="#474747" stroke-width="1" />
<line x1="539.4" y1="256.48" x2="537.2" y2="256.48" stroke="#474747" stroke-width="1" />
<line x1="324.8" y1="229.75" x2="327" y2="229.75" stroke="#474747" stroke-width="1" />
<line x1="539.4" y1="229.75" x2="537.2" y2="229.75" stroke="#474747" stroke-width="1" />
<line x1="324.8" y1="203.01" x2="327" y2="203.01" stroke="#474747" stroke-width="1" />
<line x1="539.4" y1="203.01" x2="537.2" y2="203.01" stroke="#474747" stroke-width="1" />
<line x1="324.8" y1="176.27" x2="327" y2="176.27" stroke="#474747" stroke-width="1" />
<line x1="539.4" y1="176.27" x2="537.2" y2="176.27" stroke="#474747" stroke-width="1" />
<text transform="translate(324.8,273.8) scale(0.85,1)" font-size="9.3" text-anchor="middle" fill="#262626" >0</text>
<text transform="translate(367.72,273.8) scale(0.85,1)" font-size="9.3" text-anchor="middle" fill="#262626" >100</text>
<text transform="translate(410.64,273.8) scale(0.85,1)" font-size="9.3" text-anchor="middle" fill="#262626" >200</text>
<text transform="translate(453.56,273.8) scale(0.85,1)" font-size="9.3" text-anchor="middle" fill="#262626" >300</text>
<text transform="translate(496.48,273.8) scale(0.85,1)" font-size="9.3" text-anchor="middle" fill="#262626" >400</text>
<text transform="translate(539.4,273.8) scale(0.85,1)" font-size="9.3" text-anchor="middle" fill="#262626" >500</text>
<text transform="translate(323,259.98) scale(0.85,1)" font-size="9.3" text-anchor="end" fill="#262626" >0</text>
<text transform="translate(323,233.25) scale(0.85,1)" font-size="9.3" text-anchor="end" fill="#262626" >200</text>
<text transform="translate(323,206.51) scale(0.85,1)" font-size="9.3" text-anchor="end" fill="#262626" >400</text>
<text transform="translate(323,179.77) scale(0.85,1)" font-size="9.3" text-anchor="end" fill="#262626" >600</text>
<rect x="344" y="243.4" width="6.4" height="14.8" fill="none" stroke="#3a3a3a" stroke-width="0.95"/>
<line x1="344" y1="243.4" x2="361" y2="235.5" stroke="#222" stroke-width="0.9" />
<line x1="350.4" y1="243.4" x2="433.8" y2="235.5" stroke="#222" stroke-width="0.9" />
<rect x="361" y="194.1" width="72.8" height="41.4" fill="#ffffff" stroke="none" stroke-width="0"/>
<line x1="388.6" y1="194.1" x2="388.6" y2="235.5" stroke="#e4e4e4" stroke-width="1" />
<line x1="432.4" y1="194.1" x2="432.4" y2="235.5" stroke="#e4e4e4" stroke-width="1" />
<line x1="361" y1="202.6" x2="433.8" y2="202.6" stroke="#e4e4e4" stroke-width="1" />
<line x1="361" y1="217.8" x2="433.8" y2="217.8" stroke="#e4e4e4" stroke-width="1" />
<line x1="361" y1="232.8" x2="433.8" y2="232.8" stroke="#e4e4e4" stroke-width="1" />
<clipPath id="clip-1"><rect x="361" y="194.1" width="72.8" height="41.4"/></clipPath>
<g clip-path="url(#clip-1)">
<polyline points="361,187.35 361.61,188.52 362.22,189.67 362.84,190.78 363.45,191.85 364.06,192.9 364.67,193.92 365.28,194.9 365.89,195.86 366.51,196.79 367.12,197.7 367.73,198.58 368.34,199.43 368.95,200.26 369.56,201.06 370.18,201.85 370.79,202.61 371.4,203.34 372.01,204.06 372.62,204.76 373.24,205.43 373.85,206.09 374.46,206.73 375.07,207.35 375.68,207.95 376.29,208.53 376.91,209.1 377.52,209.65 378.13,210.19 378.74,210.71 379.35,211.21 379.96,211.7 380.58,212.18 381.19,212.64 381.8,213.09 382.41,213.53 383.02,213.95 383.64,214.36 384.25,214.76 384.86,215.15 385.47,215.53 386.08,215.9 386.69,216.25 387.31,216.6 387.92,216.93 388.53,217.26 389.14,217.58 389.75,217.89 390.36,218.18 390.98,218.47 391.59,218.76 392.2,219.03 392.81,219.3 393.42,219.56 394.04,219.81 394.65,220.05 395.26,220.29 395.87,220.52 396.48,220.74 397.09,220.96 397.71,221.17 398.32,221.37 398.93,221.57 399.54,221.77 400.15,221.95 400.76,222.14 401.38,222.31 401.99,222.48 402.6,222.65 403.21,222.81 403.82,222.97 404.44,223.12 405.05,223.27 405.66,223.42 406.27,223.56 406.88,223.69 407.49,223.83 408.11,223.95 408.72,224.08 409.33,224.2 409.94,224.32 410.55,224.43 411.16,224.54 411.78,224.65 412.39,224.76 413,224.86 413.61,224.96 414.22,225.05 414.84,225.15 415.45,225.24 416.06,225.32 416.67,225.41 417.28,225.49 417.89,225.57 418.51,225.65 419.12,225.73 419.73,225.8 420.34,225.87 420.95,225.94 421.56,226.01 422.18,226.08 422.79,226.14 423.4,226.2 424.01,226.26 424.62,226.32 425.24,226.38 425.85,226.43 426.46,226.49 427.07,226.54 427.68,226.59 428.29,226.64 428.91,226.69 429.52,226.73 430.13,226.78 430.74,226.82 431.35,226.86 431.96,226.9 432.58,226.94 433.19,226.98 433.8,227.02" fill="none" stroke="#ff0000" stroke-width="1.3" stroke-linejoin="round" />
<polyline points="361,185.35 361.61,186.58 362.22,187.78 362.84,188.95 363.45,190.08 364.06,191.17 364.67,192.24 365.28,193.27 365.89,194.28 366.51,195.26 367.12,196.21 367.73,197.13 368.34,198.02 368.95,198.89 369.56,199.74 370.18,200.56 370.79,201.35 371.4,202.13 372.01,202.88 372.62,203.61 373.24,204.32 373.85,205 374.46,205.67 375.07,206.32 375.68,206.95 376.29,207.57 376.91,208.16 377.52,208.74 378.13,209.3 378.74,209.85 379.35,210.38 379.96,210.89 380.58,211.39 381.19,211.88 381.8,212.35 382.41,212.81 383.02,213.25 383.64,213.68 384.25,214.1 384.86,214.51 385.47,214.91 386.08,215.29 386.69,215.66 387.31,216.03 387.92,216.38 388.53,216.72 389.14,217.05 389.75,217.38 390.36,217.69 390.98,218 391.59,218.29 392.2,218.58 392.81,218.86 393.42,219.13 394.04,219.39 394.65,219.65 395.26,219.9 395.87,220.14 396.48,220.37 397.09,220.6 397.71,220.82 398.32,221.04 398.93,221.24 399.54,221.45 400.15,221.64 400.76,221.83 401.38,222.02 401.99,222.2 402.6,222.38 403.21,222.55 403.82,222.71 404.44,222.87 405.05,223.03 405.66,223.18 406.27,223.33 406.88,223.47 407.49,223.61 408.11,223.74 408.72,223.87 409.33,224 409.94,224.12 410.55,224.24 411.16,224.36 411.78,224.47 412.39,224.58 413,224.69 413.61,224.79 414.22,224.89 414.84,224.99 415.45,225.09 416.06,225.18 416.67,225.27 417.28,225.36 417.89,225.44 418.51,225.52 419.12,225.6 419.73,225.68 420.34,225.75 420.95,225.83 421.56,225.9 422.18,225.97 422.79,226.03 423.4,226.1 424.01,226.16 424.62,226.22 425.24,226.28 425.85,226.34 426.46,226.4 427.07,226.45 427.68,226.51 428.29,226.56 428.91,226.61 429.52,226.66 430.13,226.7 430.74,226.75 431.35,226.79 431.96,226.84 432.58,226.88 433.19,226.92 433.8,226.96" fill="none" stroke="#0000ff" stroke-width="1.3" stroke-linejoin="round" />
<polyline points="361,183.26 361.61,184.55 362.22,185.81 362.84,187.03 363.45,188.21 364.06,189.36 364.67,190.48 365.28,191.57 365.89,192.62 366.51,193.65 367.12,194.64 367.73,195.61 368.34,196.55 368.95,197.46 369.56,198.34 370.18,199.2 370.79,200.04 371.4,200.85 372.01,201.64 372.62,202.4 373.24,203.15 373.85,203.87 374.46,204.57 375.07,205.25 375.68,205.91 376.29,206.56 376.91,207.18 377.52,207.79 378.13,208.38 378.74,208.95 379.35,209.5 379.96,210.04 380.58,210.57 381.19,211.08 381.8,211.57 382.41,212.05 383.02,212.52 383.64,212.97 384.25,213.41 384.86,213.84 385.47,214.25 386.08,214.66 386.69,215.05 387.31,215.43 387.92,215.8 388.53,216.16 389.14,216.51 389.75,216.84 390.36,217.17 390.98,217.49 391.59,217.8 392.2,218.1 392.81,218.4 393.42,218.68 394.04,218.96 394.65,219.23 395.26,219.49 395.87,219.74 396.48,219.99 397.09,220.22 397.71,220.46 398.32,220.68 398.93,220.9 399.54,221.11 400.15,221.32 400.76,221.52 401.38,221.71 401.99,221.9 402.6,222.09 403.21,222.27 403.82,222.44 404.44,222.61 405.05,222.77 405.66,222.93 406.27,223.08 406.88,223.23 407.49,223.38 408.11,223.52 408.72,223.66 409.33,223.79 409.94,223.92 410.55,224.05 411.16,224.17 411.78,224.29 412.39,224.4 413,224.51 413.61,224.62 414.22,224.73 414.84,224.83 415.45,224.93 416.06,225.03 416.67,225.12 417.28,225.21 417.89,225.3 418.51,225.39 419.12,225.47 419.73,225.55 420.34,225.63 420.95,225.71 421.56,225.78 422.18,225.85 422.79,225.92 423.4,225.99 424.01,226.06 424.62,226.12 425.24,226.19 425.85,226.25 426.46,226.31 427.07,226.36 427.68,226.42 428.29,226.47 428.91,226.52 429.52,226.58 430.13,226.63 430.74,226.67 431.35,226.72 431.96,226.77 432.58,226.81 433.19,226.85 433.8,226.89" fill="none" stroke="#00ff00" stroke-width="1.3" stroke-linejoin="round" />
</g>
<rect x="361" y="194.1" width="72.8" height="41.4" fill="none" stroke="#474747" stroke-width="1.1"/>
<line x1="388.6" y1="235.5" x2="388.6" y2="233.9" stroke="#474747" stroke-width="0.9" />
<line x1="388.6" y1="194.1" x2="388.6" y2="195.7" stroke="#474747" stroke-width="0.9" />
<text transform="translate(388.6,246.5) scale(0.85,1)" font-size="9.3" text-anchor="middle" fill="#262626" >52</text>
<line x1="432.4" y1="235.5" x2="432.4" y2="233.9" stroke="#474747" stroke-width="0.9" />
<line x1="432.4" y1="194.1" x2="432.4" y2="195.7" stroke="#474747" stroke-width="0.9" />
<text transform="translate(432.4,246.5) scale(0.85,1)" font-size="9.3" text-anchor="middle" fill="#262626" >53</text>
<line x1="361" y1="202.6" x2="362.6" y2="202.6" stroke="#474747" stroke-width="0.9" />
<line x1="433.8" y1="202.6" x2="432.2" y2="202.6" stroke="#474747" stroke-width="0.9" />
<text transform="translate(358.4,206.5) scale(0.85,1)" font-size="9.3" text-anchor="end" fill="#262626" >40</text>
<line x1="361" y1="217.8" x2="362.6" y2="217.8" stroke="#474747" stroke-width="0.9" />
<line x1="433.8" y1="217.8" x2="432.2" y2="217.8" stroke="#474747" stroke-width="0.9" />
<text transform="translate(358.4,221.7) scale(0.85,1)" font-size="9.3" text-anchor="end" fill="#262626" >20</text>
<line x1="361" y1="232.8" x2="362.6" y2="232.8" stroke="#474747" stroke-width="0.9" />
<line x1="433.8" y1="232.8" x2="432.2" y2="232.8" stroke="#474747" stroke-width="0.9" />
<text transform="translate(358.4,236.7) scale(0.85,1)" font-size="9.3" text-anchor="end" fill="#262626" >0</text>
<rect x="480.2" y="228.5" width="54.6" height="23.2" fill="#ffffff" stroke="#474747" stroke-width="0.9"/>
<line x1="481" y1="233" x2="488.4" y2="233" stroke="#ff0000" stroke-width="1.3" />
<text transform="translate(488.8,235.5) scale(0.86,1)" font-size="7.0" text-anchor="start" fill="#333" >-10% uncertainty</text>
<line x1="481" y1="240.55" x2="488.4" y2="240.55" stroke="#0000ff" stroke-width="1.3" />
<text transform="translate(488.8,243.05) scale(0.86,1)" font-size="7.0" text-anchor="start" fill="#333" >-20% uncertainty</text>
<line x1="481" y1="248.1" x2="488.4" y2="248.1" stroke="#00ff00" stroke-width="1.3" />
<text transform="translate(488.8,250.6) scale(0.86,1)" font-size="7.0" text-anchor="start" fill="#333" >-30% uncertainty</text>
<text transform="translate(432.7,284.9) scale(0.94,1)" font-size="9.9" text-anchor="middle" fill="#262626" >Time (in sec)</text>
<text transform="translate(305.6,213.2) rotate(-90) scale(0.94,1)" font-size="9.9" text-anchor="middle" fill="#262626">Control output</text>
<text x="427.2" y="304.2" class="sf" font-size="13" letter-spacing="0.5" text-anchor="middle" fill="#111">(d)</text>
</svg>
</body></html>
